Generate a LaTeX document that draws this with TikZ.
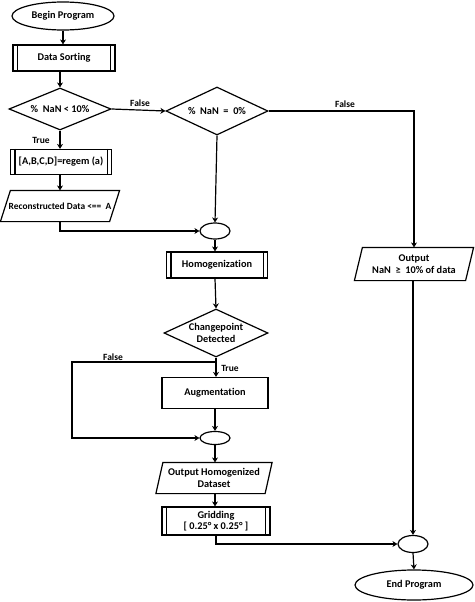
\documentclass[tikz,border=0pt]{standalone}
\usepackage{fontspec}
\setmainfont{Carlito}[Ligatures=NoCommon]
\usetikzlibrary{shapes.geometric,arrows.meta}
\begin{document}
\begin{tikzpicture}[x=1pt,y=-1pt,line width=1.2pt,
  every node/.style={font=\bfseries\fontsize{10.3}{11.5}\selectfont,inner sep=0pt,align=center},
  ell/.style={draw,ellipse},
  box/.style={draw,rectangle},
  pbox/.style={rectangle},
  dia/.style={draw,diamond,aspect=2.2},
  lbl/.style={font=\bfseries\fontsize{9.5}{11}\selectfont},
  arr/.style={-{Stealth[length=5pt,width=6pt]}}]
\useasboundingbox (0,0) rectangle (474,602);
% nodes
\node[ell,minimum width=102,minimum height=28] (begin) at (63,16) {Begin Program};
\node[box,minimum width=102,minimum height=26] (sort) at (64,58) {Data Sorting};
\node[dia,minimum width=102,minimum height=42] (d1) at (60,109) {\%\ \ NaN < 10\%};
\node[box,minimum width=101,minimum height=25] (regem) at (61,162) {[A,B,C,D]=regem (a)};
\node[pbox,minimum width=108,minimum height=30,font=\bfseries\fontsize{9.4}{11}\selectfont] (recon) at (60,206) {Reconstructed Data <==\ \ A};
\node[ell,minimum width=30,minimum height=16] (j1) at (215,231) {};
\node[dia,minimum width=102,minimum height=48] (d2) at (217,111) {\%\ \ NaN\ \ =\ \ 0\%};
\node[pbox,minimum width=110,minimum height=32] (outn) at (414,264) {Output\\NaN\ \ ≥\ \ 10\% of data};
\node[box,minimum width=101,minimum height=26] (homog) at (217,265) {Homogenization};
\node[dia,minimum width=104,minimum height=48] (d3) at (216,333) {Changepoint\\Detected};
\node[box,minimum width=106,minimum height=31] (aug) at (215,393) {Augmentation};
\node[ell,minimum width=30,minimum height=13] (j2) at (215,438) {};
\node[pbox,minimum width=108,minimum height=30] (outh) at (214,478) {Output Homogenized\\Dataset};
\node[box,minimum width=108,minimum height=28] (grid) at (216,521) {Gridding\\{[} 0.25\textdegree\ x 0.25\textdegree\ ]};
\node[ell,minimum width=30,minimum height=17] (j3) at (413,544) {};
\node[ell,minimum width=118,minimum height=30] (end) at (414,585) {End Program};
\coordinate (fb) at (72,362);
% predefined process bars
\foreach \n in {sort,regem,homog,grid}
  \draw ([xshift=5pt]\n.north west) -- ([xshift=5pt]\n.south west)
        ([xshift=-5pt]\n.north east) -- ([xshift=-5pt]\n.south east);
% parallelograms
\foreach \n/\s in {recon/5,outn/4,outh/3.5}
  \draw ([xshift=\s pt]\n.north west) -- ([xshift=\s pt]\n.north east)
        -- ([xshift=-\s pt]\n.south east) -- ([xshift=-\s pt]\n.south west) -- cycle;
% connectors
\draw[arr] (begin.south) -- (begin.south |- sort.north);
\draw[arr] (d1.north |- sort.south) -- (d1.north);
\draw[arr] (d1.south) -- (d1.south |- regem.north);
\draw[arr] (d1.south |- regem.south) -- (d1.south |- recon.north);
\draw[arr] (d1.east) -- (d2.west);
\draw[arr] (recon.south) |- (j1.west);
\draw[arr] (d2.south) -- (j1.north);
\draw[arr] (d2.east) -| (outn.north);
\draw[arr] (j1.south) -- (j1.south |- homog.north);
\draw[arr] (j1.south |- homog.south) -- (d3.north);
\draw[arr] (d3.south) -- (d3.south |- aug.north);
\draw[arr] (d3.south |- fb) -- (fb) |- (j2.west);
\draw[arr] (aug.south) -- (j2.north);
\draw[arr] (j2.south) -- (j2.south |- outh.north);
\draw[arr] (j2.south |- outh.south) -- (j2.south |- grid.north);
\draw[arr] (grid.south) |- (j3.west);
\draw[arr] (outn.south -| j3.north) -- (j3.north);
\draw[arr] (j3.south) -- (end.north);
% labels
\node[lbl] (lf1) at (140,103) {False};
\node[lbl] (lt1) at (41,140) {True};
\node[lbl] (lf2) at (345,104) {False};
\node[lbl] (lt2) at (230,368) {True};
\node[lbl] (lf3) at (113,357) {False};
\end{tikzpicture}
\end{document}
